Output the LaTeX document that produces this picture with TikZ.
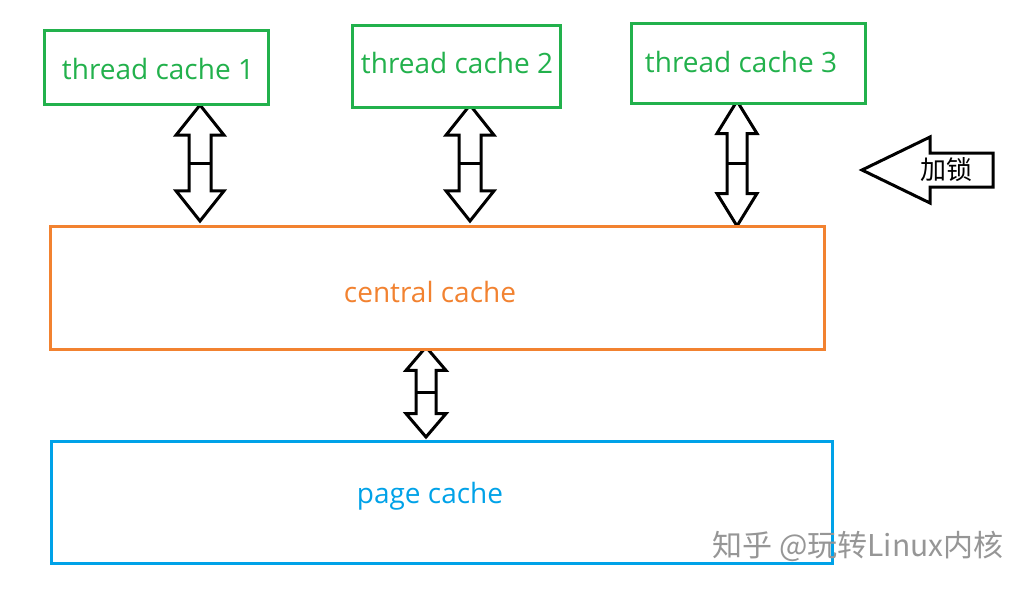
\documentclass[tikz,border=0pt]{standalone}
\usepackage{fontspec}
\setmainfont{Open Sans}
\newfontfamily\cjk{Noto Sans CJK SC}
\begin{document}
\begin{tikzpicture}[x=1pt,y=-1pt,
  cbox/.style={draw,line width=3pt,fill=white},
  lbl/.style={font=\fontsize{28}{32}\selectfont},
  blk/.style={draw=black,line width=3pt,line join=miter}]
\useasboundingbox (0,0) rectangle (1033,590);
\newcommand\dblarr[5]{% x, top, bottom, head half-width, shaft half-width
  \pgfmathsetmacro\mid{(#2+#3)/2}
  \pgfmathsetmacro\hl{(#3-#2)*0.26}
  \draw[blk] (#1,#2) -- (#1+#4,#2+\hl) -- (#1+#5,#2+\hl) -- (#1+#5,#3-\hl) -- (#1+#4,#3-\hl) -- (#1,#3)
     -- (#1-#4,#3-\hl) -- (#1-#5,#3-\hl) -- (#1-#5,#2+\hl) -- (#1-#4,#2+\hl) -- cycle;
  \draw[blk] (#1-#5,\mid) -- (#1+#5,\mid);}
\dblarr{200}{105}{221}{24}{11}
\dblarr{470}{105}{221}{24}{11}
\dblarr{737}{101}{226}{20}{10}
\dblarr{426}{347}{437}{20}{10}
\node[cbox,draw={rgb,255:red,34;green,177;blue,76},minimum width=224pt,minimum height=74pt] (t1) at (156,67) {};
\node[lbl,text={rgb,255:red,34;green,177;blue,76}] (t1l) at (158,69) {thread cache 1};
\node[cbox,draw={rgb,255:red,34;green,177;blue,76},minimum width=208pt,minimum height=82pt] (t2) at (456,66) {};
\node[lbl,text={rgb,255:red,34;green,177;blue,76}] (t2l) at (457,63) {thread cache 2};
\node[cbox,draw={rgb,255:red,34;green,177;blue,76},minimum width=234pt,minimum height=80pt] (t3) at (748,63) {};
\node[lbl,text={rgb,255:red,34;green,177;blue,76}] (t3l) at (741,62) {thread cache 3};
\node[cbox,draw={rgb,255:red,242;green,130;blue,48},minimum width=774pt,minimum height=123pt] (cc) at (437,288) {};
\node[lbl,text={rgb,255:red,242;green,130;blue,48}] (ccl) at (430,292) {central cache};
\node[cbox,draw={rgb,255:red,0;green,162;blue,232},minimum width=781pt,minimum height=122pt] (pc) at (442,502) {};
\node[lbl,text={rgb,255:red,0;green,162;blue,232}] (pcl) at (430,496) {page cache};
\draw[blk] (862,170) -- (930,137) -- (930,153) -- (993,153) -- (993,187) -- (930,187) -- (930,203) -- cycle;
\node[font=\cjk\fontsize{26}{30}\selectfont,fill=white,inner sep=1pt] (lock) at (946,170) {加锁};
\node[font=\cjk\fontsize{30}{34}\selectfont,text={rgb,255:red,150;green,150;blue,150},anchor=east] (wm) at (1007,546) {知乎 @玩转Linux内核};
\end{tikzpicture}
\end{document}
